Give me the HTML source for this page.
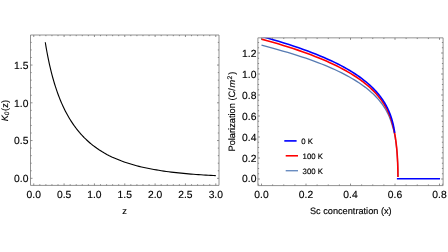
<!DOCTYPE html>
<html lang="en"><head><meta charset="utf-8"><title>Plots</title>
<style>html,body{margin:0;padding:0;background:#fff;overflow:hidden}svg{display:block}</style></head>
<body>
<svg width="448" height="252" viewBox="0 0 448 252" font-family="'Liberation Sans', Arial, Helvetica, sans-serif" fill="#000" stroke-linecap="butt" text-rendering="geometricPrecision">
<g stroke="#000" stroke-width="0.15" stroke-linejoin="round">
<rect width="448" height="252" fill="#fff" stroke="none"/>
<polyline points="45.28,42.26 46.11,47.3 46.95,51.99 47.78,56.36 48.61,60.46 49.44,64.32 50.28,67.95 51.11,71.39 51.94,74.64 52.78,77.73 53.61,80.67 54.44,83.47 55.28,86.14 56.11,88.69 56.94,91.14 57.78,93.48 58.61,95.72 59.44,97.88 60.27,99.95 61.11,101.95 61.94,103.87 62.77,105.72 63.61,107.5 64.44,109.22 65.27,110.88 66.11,112.49 66.94,114.05 67.77,115.55 68.61,117 69.44,118.41 70.27,119.78 71.1,121.1 71.94,122.39 72.77,123.63 73.6,124.84 74.44,126.02 75.27,127.16 76.1,128.27 76.94,129.35 77.77,130.4 78.6,131.41 79.43,132.41 80.27,133.37 81.1,134.31 81.93,135.23 82.77,136.12 83.6,136.99 84.43,137.84 85.27,138.66 86.1,139.47 86.93,140.25 87.77,141.02 88.6,141.76 89.43,142.49 90.26,143.2 91.1,143.9 91.93,144.57 92.76,145.24 93.6,145.88 94.43,146.51 96.91,148.31 99.38,149.98 101.86,151.55 104.34,153.01 106.81,154.39 109.29,155.68 111.77,156.89 114.24,158.02 116.72,159.09 119.2,160.1 121.67,161.05 124.15,161.94 126.63,162.78 129.1,163.58 131.58,164.33 134.06,165.04 136.53,165.71 139.01,166.34 141.49,166.94 143.96,167.5 146.44,168.04 148.92,168.55 151.39,169.03 153.87,169.48 156.35,169.91 158.83,170.32 161.3,170.71 163.78,171.08 166.26,171.43 168.73,171.76 171.21,172.07 173.69,172.37 176.16,172.65 178.64,172.92 181.12,173.18 183.59,173.42 186.07,173.65 188.55,173.87 191.02,174.08 193.5,174.28 195.98,174.46 198.45,174.64 200.93,174.81 203.41,174.98 205.88,175.13 208.36,175.28 210.84,175.42 213.31,175.55 215.79,175.68" fill="none" stroke="#000" stroke-width="1.12" stroke-linejoin="round"/>
<path d="M33.75 185.4v-2M33.75 35v2M39.82 185.4v-1.2M39.82 35v1.2M45.89 185.4v-1.2M45.89 35v1.2M51.95 185.4v-1.2M51.95 35v1.2M58.02 185.4v-1.2M58.02 35v1.2M64.09 185.4v-2M64.09 35v2M70.16 185.4v-1.2M70.16 35v1.2M76.23 185.4v-1.2M76.23 35v1.2M82.29 185.4v-1.2M82.29 35v1.2M88.36 185.4v-1.2M88.36 35v1.2M94.43 185.4v-2M94.43 35v2M100.5 185.4v-1.2M100.5 35v1.2M106.57 185.4v-1.2M106.57 35v1.2M112.63 185.4v-1.2M112.63 35v1.2M118.7 185.4v-1.2M118.7 35v1.2M124.77 185.4v-2M124.77 35v2M130.84 185.4v-1.2M130.84 35v1.2M136.91 185.4v-1.2M136.91 35v1.2M142.97 185.4v-1.2M142.97 35v1.2M149.04 185.4v-1.2M149.04 35v1.2M155.11 185.4v-2M155.11 35v2M161.18 185.4v-1.2M161.18 35v1.2M167.25 185.4v-1.2M167.25 35v1.2M173.31 185.4v-1.2M173.31 35v1.2M179.38 185.4v-1.2M179.38 35v1.2M185.45 185.4v-2M185.45 35v2M191.52 185.4v-1.2M191.52 35v1.2M197.59 185.4v-1.2M197.59 35v1.2M203.65 185.4v-1.2M203.65 35v1.2M209.72 185.4v-1.2M209.72 35v1.2M215.79 185.4v-2M215.79 35v2M30.5 178.3h2M219 178.3h-2M30.5 170.75h1.2M219 170.75h-1.2M30.5 163.2h1.2M219 163.2h-1.2M30.5 155.65h1.2M219 155.65h-1.2M30.5 148.1h1.2M219 148.1h-1.2M30.5 140.55h2M219 140.55h-2M30.5 133h1.2M219 133h-1.2M30.5 125.45h1.2M219 125.45h-1.2M30.5 117.9h1.2M219 117.9h-1.2M30.5 110.35h1.2M219 110.35h-1.2M30.5 102.8h2M219 102.8h-2M30.5 95.25h1.2M219 95.25h-1.2M30.5 87.7h1.2M219 87.7h-1.2M30.5 80.15h1.2M219 80.15h-1.2M30.5 72.6h1.2M219 72.6h-1.2M30.5 65.05h2M219 65.05h-2M30.5 57.5h1.2M219 57.5h-1.2M30.5 49.95h1.2M219 49.95h-1.2M30.5 42.4h1.2M219 42.4h-1.2" stroke="#444" stroke-width="0.6" fill="none"/>
<rect x="30.5" y="35.0" width="188.5" height="150.4" fill="none" stroke="#6e6e6e" stroke-width="0.75"/>
<g font-size="10.3" text-anchor="middle">
<text x="33.75" y="197.6">0.0</text>
<text x="64.09" y="197.6">0.5</text>
<text x="94.43" y="197.6">1.0</text>
<text x="124.77" y="197.6">1.5</text>
<text x="155.11" y="197.6">2.0</text>
<text x="185.45" y="197.6">2.5</text>
<text x="215.79" y="197.6">3.0</text>
</g>
<g font-size="10.3" text-anchor="end">
<text x="28.4" y="181.9">0.0</text>
<text x="28.4" y="144.25">0.5</text>
<text x="28.4" y="106.8">1.0</text>
<text x="28.4" y="69.45">1.5</text>
</g>
<text x="124.5" y="214.2" font-size="9.2" text-anchor="middle">z</text>
<text transform="translate(7.6 110.6) rotate(-90)" font-size="9.2" text-anchor="middle"><tspan font-style="italic">K</tspan><tspan font-style="italic" font-size="6.44" dy="1.6">0</tspan><tspan dy="-1.6" dx="0.5">(</tspan><tspan dx="0.2">z</tspan><tspan dx="0.2">)</tspan></text>
<clipPath id="c"><rect x="257.9" y="37.85" width="185.2" height="147.75"/></clipPath>
<g clip-path="url(#c)" fill="none" stroke-linejoin="round">
<polyline points="261.5,45.23 267.09,46.67 272.51,48.12 277.76,49.56 282.84,51.01 287.76,52.45 292.51,53.9 297.11,55.34 301.56,56.78 305.85,58.23 310,59.67 314,61.12 317.86,62.56 321.59,64.01 325.18,65.45 328.64,66.89 331.97,68.34 335.18,69.78 338.27,71.23 341.24,72.67 344.09,74.12 346.84,75.56 349.47,77 351.99,78.45 354.42,79.89 356.74,81.34 358.96,82.78 361.09,84.23 363.13,85.67 365.07,87.11 366.93,88.56 368.71,90 370.4,91.45 372.02,92.89 373.55,94.34 375.01,95.78 376.4,97.22 377.72,98.67 378.98,100.11 380.16,101.56 381.29,103 382.35,104.45 383.36,105.89 384.31,107.33 385.21,108.78 386.05,110.22 386.84,111.67 387.59,113.11 388.29,114.56 388.94,116 389.06,116.27 389.17,116.54 389.29,116.81 389.4,117.08 389.51,117.35 389.62,117.62 389.73,117.88 389.84,118.15 389.95,118.42 390.05,118.69 390.15,118.96 390.26,119.23 390.36,119.5 390.46,119.77 390.55,120.04 390.65,120.31 390.75,120.58 390.84,120.85 390.93,121.12 391.02,121.38 391.11,121.65 391.2,121.92 391.29,122.19 391.38,122.46 391.46,122.73 391.55,123 391.63,123.27 391.71,123.54 391.79,123.81 391.87,124.08 391.95,124.35 392.03,124.62 392.11,124.88 392.18,125.15 392.26,125.42 392.33,125.69 392.4,125.96 392.47,126.23 392.54,126.5 392.98,127.91 393.4,129.38 393.79,130.93 394.17,132.53 394.54,134.2 394.88,135.94 395.21,137.74 395.51,139.6 395.8,141.52 396.07,143.5 396.33,145.54 396.56,147.64 396.78,149.79 396.98,152.01 397.16,154.28 397.32,156.6 397.46,158.98 397.58,161.42 397.69,163.9 397.78,166.44 397.85,169.03 397.9,171.67 397.93,174.36 397.95,177.1" stroke="#577bb2" stroke-width="1.3"/>
<polyline points="261.5,39.14 267.22,40.71 272.76,42.28 278.11,43.85 283.3,45.41 288.31,46.98 293.16,48.55 297.84,50.12 302.37,51.69 306.74,53.26 310.96,54.83 315.02,56.39 318.95,57.96 322.73,59.53 326.37,61.1 329.87,62.67 333.25,64.24 336.49,65.81 339.61,67.37 342.61,68.94 345.49,70.51 348.25,72.08 350.9,73.65 353.44,75.22 355.87,76.79 358.2,78.35 360.43,79.92 362.56,81.49 364.59,83.06 366.54,84.63 368.39,86.2 370.15,87.77 371.83,89.33 373.43,90.9 374.95,92.47 376.4,94.04 377.77,95.61 379.07,97.18 380.29,98.75 381.46,100.31 382.56,101.88 383.59,103.45 384.57,105.02 385.49,106.59 386.36,108.16 387.17,109.73 387.93,111.29 388.64,112.86 389.31,114.43 389.93,116 390.03,116.27 390.14,116.54 390.24,116.81 390.33,117.08 390.43,117.35 390.53,117.62 390.62,117.88 390.72,118.15 390.81,118.42 390.9,118.69 390.99,118.96 391.08,119.23 391.17,119.5 391.26,119.77 391.34,120.04 391.43,120.31 391.51,120.58 391.59,120.85 391.67,121.12 391.76,121.38 391.83,121.65 391.91,121.92 391.99,122.19 392.07,122.46 392.14,122.73 392.22,123 392.29,123.27 392.36,123.54 392.43,123.81 392.5,124.08 392.57,124.35 392.64,124.62 392.71,124.88 392.77,125.15 392.84,125.42 392.9,125.69 392.97,125.96 393.03,126.23 393.09,126.5 393.46,127.91 393.82,129.38 394.16,130.93 394.49,132.53 394.81,134.2 395.11,135.94 395.4,137.74 395.68,139.6 395.94,141.52 396.18,143.5 396.41,145.54 396.63,147.64 396.83,149.79 397.02,152.01 397.18,154.28 397.34,156.6 397.47,158.98 397.59,161.42 397.7,163.9 397.78,166.44 397.85,169.03 397.9,171.67 397.93,174.36 397.95,177.1" stroke="#f00" stroke-width="1.6"/>
<polyline points="261.5,36.41 267.37,38.03 273.05,39.66 278.54,41.28 283.85,42.91 288.98,44.53 293.93,46.16 298.71,47.78 303.32,49.4 307.77,51.03 312.06,52.65 316.19,54.28 320.17,55.9 324.01,57.53 327.69,59.15 331.24,60.77 334.65,62.4 337.92,64.02 341.07,65.65 344.08,67.27 346.98,68.9 349.75,70.52 352.4,72.14 354.94,73.77 357.37,75.39 359.7,77.02 361.92,78.64 364.03,80.27 366.05,81.89 367.98,83.51 369.81,85.14 371.55,86.76 373.21,88.39 374.78,90.01 376.27,91.64 377.69,93.26 379.03,94.88 380.3,96.51 381.49,98.13 382.62,99.76 383.69,101.38 384.69,103.01 385.63,104.63 386.52,106.25 387.35,107.88 388.12,109.5 388.85,111.13 389.53,112.75 390.16,114.38 390.75,116 390.9,116.43 391.04,116.86 391.19,117.29 391.33,117.72 391.46,118.15 391.6,118.58 391.73,119.02 391.86,119.45 391.98,119.88 392.11,120.31 392.23,120.74 392.35,121.17 392.46,121.6 392.58,122.03 392.69,122.46 392.8,122.89 392.9,123.32 393.01,123.75 393.11,124.18 393.21,124.62 393.3,125.05 393.4,125.48 393.49,125.91 393.58,126.34 393.67,126.77 393.76,127.2 393.84,127.63 393.92,128.06 394.01,128.49 394.08,128.92 394.16,129.35 394.23,129.78 394.31,130.22 394.38,130.65 394.45,131.08 394.51,131.51 394.58,131.94 394.64,132.37 394.71,132.8" stroke="#00f" stroke-width="1.6"/>
<path d="M396.89 178.75H440.06" stroke="#00f" stroke-width="1.65"/>
</g>
<path d="M261.5 185.6v-2M261.5 37.85v2M272.62 185.6v-1.2M272.62 37.85v1.2M283.75 185.6v-1.2M283.75 37.85v1.2M294.88 185.6v-1.2M294.88 37.85v1.2M306 185.6v-2M306 37.85v2M317.12 185.6v-1.2M317.12 37.85v1.2M328.25 185.6v-1.2M328.25 37.85v1.2M339.38 185.6v-1.2M339.38 37.85v1.2M350.5 185.6v-2M350.5 37.85v2M361.62 185.6v-1.2M361.62 37.85v1.2M372.75 185.6v-1.2M372.75 37.85v1.2M383.88 185.6v-1.2M383.88 37.85v1.2M395 185.6v-2M395 37.85v2M406.12 185.6v-1.2M406.12 37.85v1.2M417.25 185.6v-1.2M417.25 37.85v1.2M428.38 185.6v-1.2M428.38 37.85v1.2M439.5 185.6v-2M439.5 37.85v2M257.9 184.25h1.2M443.1 184.25h-1.2M257.9 179h2M443.1 179h-2M257.9 173.75h1.2M443.1 173.75h-1.2M257.9 168.5h1.2M443.1 168.5h-1.2M257.9 163.25h1.2M443.1 163.25h-1.2M257.9 158h2M443.1 158h-2M257.9 152.75h1.2M443.1 152.75h-1.2M257.9 147.5h1.2M443.1 147.5h-1.2M257.9 142.25h1.2M443.1 142.25h-1.2M257.9 137h2M443.1 137h-2M257.9 131.75h1.2M443.1 131.75h-1.2M257.9 126.5h1.2M443.1 126.5h-1.2M257.9 121.25h1.2M443.1 121.25h-1.2M257.9 116h2M443.1 116h-2M257.9 110.75h1.2M443.1 110.75h-1.2M257.9 105.5h1.2M443.1 105.5h-1.2M257.9 100.25h1.2M443.1 100.25h-1.2M257.9 95h2M443.1 95h-2M257.9 89.75h1.2M443.1 89.75h-1.2M257.9 84.5h1.2M443.1 84.5h-1.2M257.9 79.25h1.2M443.1 79.25h-1.2M257.9 74h2M443.1 74h-2M257.9 68.75h1.2M443.1 68.75h-1.2M257.9 63.5h1.2M443.1 63.5h-1.2M257.9 58.25h1.2M443.1 58.25h-1.2M257.9 53h2M443.1 53h-2M257.9 47.75h1.2M443.1 47.75h-1.2M257.9 42.5h1.2M443.1 42.5h-1.2" stroke="#444" stroke-width="0.6" fill="none"/>
<rect x="257.9" y="37.85" width="185.2" height="147.75" fill="none" stroke="#6e6e6e" stroke-width="0.75"/>
<g font-size="10.3" text-anchor="middle">
<text x="261.5" y="197.6">0.0</text>
<text x="306" y="197.6">0.2</text>
<text x="350.5" y="197.6">0.4</text>
<text x="395" y="197.6">0.6</text>
<text x="439.5" y="197.6">0.8</text>
</g>
<g font-size="10.3" text-anchor="end">
<text x="256.4" y="182.4">0.0</text>
<text x="256.4" y="161.9">0.2</text>
<text x="256.4" y="140.9">0.4</text>
<text x="256.4" y="119.9">0.6</text>
<text x="256.4" y="98.9">0.8</text>
<text x="256.4" y="77.9">1.0</text>
<text x="256.4" y="56.9">1.2</text>
</g>
<text x="350.8" y="214.3" font-size="9.2" text-anchor="middle">Sc concentration (x)</text>
<text transform="translate(234.8 111.6) rotate(-90)" font-size="9.25" text-anchor="middle">Polarization (C/<tspan font-style="italic" dx="0.7">m</tspan><tspan font-size="6.66" dy="-3.2" dx="0.5">2</tspan><tspan dy="3.2" dx="0.9">)</tspan></text>
<path d="M284.3 140.9H296.6" stroke="#00f" stroke-width="1.65"/>
<text x="301.2" y="143.7" font-size="7.8">0 K</text>
<path d="M285.7 155.8H298" stroke="#f00" stroke-width="1.55"/>
<text x="302.6" y="158.6" font-size="7.8">100 K</text>
<path d="M285.7 170.75H298" stroke="#5079b6" stroke-width="1.2"/>
<text x="302.6" y="173.8" font-size="7.8">300 K</text>
</g>
</svg>
</body></html>
